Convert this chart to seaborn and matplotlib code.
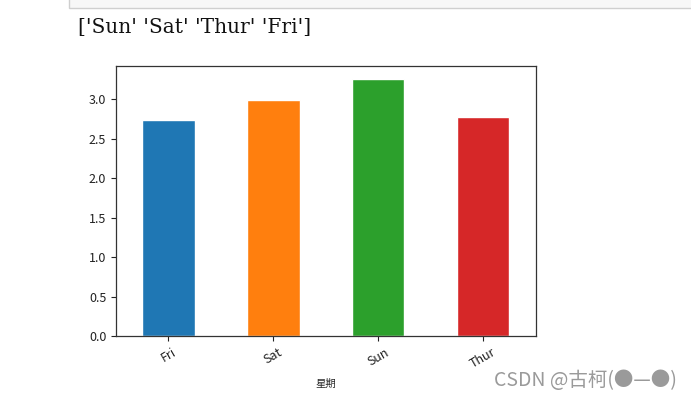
import matplotlib
matplotlib.use("Agg")
import matplotlib.pyplot as plt
import seaborn as sns
import pandas as pd
from matplotlib.patches import Rectangle

sns.set_theme(style="ticks")
plt.rcParams['font.family'] = ['Noto Sans CJK SC', 'DejaVu Sans']
plt.rcParams['axes.unicode_minus'] = False

# mean tip by day (tips dataset)
days = ['Fri', 'Sat', 'Sun', 'Thur']
mean_tip = [2.734737, 2.993103, 3.255132, 2.771452]
bar_colors = ['#1f77b4', '#ff7f0e', '#2ca02c', '#d62728']
printed = "['Sun' 'Sat' 'Thur' 'Fri']"

df = pd.DataFrame({'day': days, 'tip': mean_tip})

fig = plt.figure(figsize=(6.91, 4.01), dpi=100)

# notebook input cell border at the top
fig.patches.append(Rectangle((69 / 691, 1 - 8 / 401), 1, 0.1, transform=fig.transFigure,
                             facecolor='#f7f7f7', edgecolor='#cfcfcf', linewidth=1))
fig.text(78 / 691, 1 - 28 / 401, printed, fontsize=14.5, va='center', ha='left',
         family=['DejaVu Serif'], color='#111111')

ax = fig.add_axes([116 / 691, 65 / 401, 419.5 / 691, 270 / 401])
sns.barplot(data=df, x='day', y='tip', hue='day', palette=bar_colors, order=days,
            width=0.5, saturation=1, legend=False, ax=ax)

ax.set_xlim(-0.5, 3.5)
ax.set_ylim(0, max(mean_tip) * 1.05)
ax.set_yticks([0, 0.5, 1.0, 1.5, 2.0, 2.5, 3.0])
ax.set_yticklabels(['0.0', '0.5', '1.0', '1.5', '2.0', '2.5', '3.0'])
ax.set_xlabel('星期', fontsize=7.5, labelpad=6)
ax.set_ylabel('')
ax.tick_params(axis='both', labelsize=9, length=3.5, width=0.8, colors='#222222')
plt.setp(ax.get_xticklabels(), rotation=30)
for s in ax.spines.values():
    s.set_color('#333333')
    s.set_linewidth(0.9)

fig.text(494 / 691, 1 - 381 / 401, 'CSDN @古柯(●—●)', fontsize=14, va='center', ha='left',
         color='#9a9a9a')

fig.savefig('out.png', dpi=100)
